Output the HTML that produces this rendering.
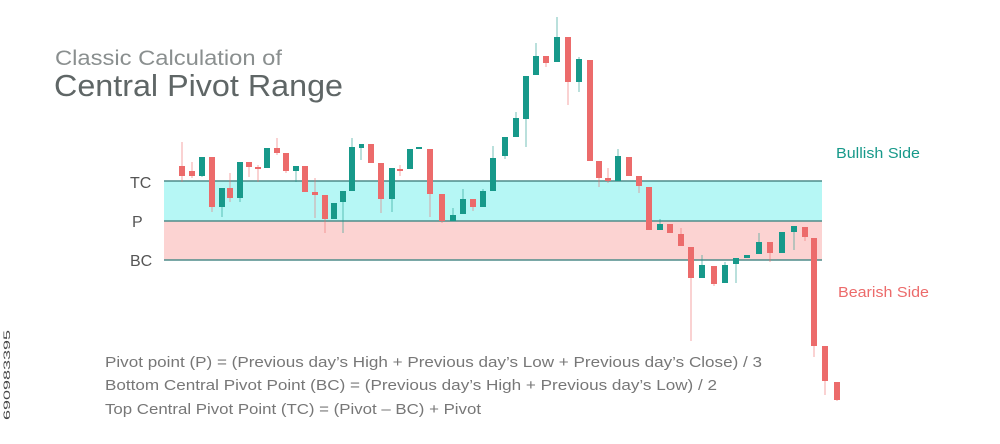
<!DOCTYPE html>
<html><head><meta charset="utf-8"><style>
body{margin:0;background:#fff;}
svg{display:block;font-family:"Liberation Sans",sans-serif;}
</style></head><body>
<svg width="1000" height="444" viewBox="0 0 1000 444" xmlns="http://www.w3.org/2000/svg">
<rect width="1000" height="444" fill="#fff"/>
<text x="55" y="65" font-size="21" fill="#8a8f8f" textLength="227" lengthAdjust="spacingAndGlyphs">Classic Calculation of</text>
<text x="54" y="96" font-size="31" fill="#5f6666" textLength="289" lengthAdjust="spacingAndGlyphs">Central Pivot Range</text>
<text x="10" y="420" font-size="9" fill="#444" transform="rotate(-90 10 420)" textLength="90" lengthAdjust="spacingAndGlyphs">690983395</text>
<rect x="164" y="181" width="658" height="40" fill="#b6f7f5"/>
<rect x="164" y="221" width="658" height="39" fill="#fcd3d2"/>
<g stroke="#4f8c8a" stroke-width="1.5">
<line x1="164" y1="181" x2="822" y2="181"/>
<line x1="164" y1="221" x2="822" y2="221"/>
<line x1="164" y1="260" x2="822" y2="260"/>
</g>
<g font-size="16" fill="#555">
<text x="130" y="188">TC</text>
<text x="132" y="227">P</text>
<text x="130" y="266">BC</text>
</g>
<text x="836" y="158" font-size="15" fill="#17998a" textLength="84" lengthAdjust="spacingAndGlyphs">Bullish Side</text>
<text x="838" y="297" font-size="15" fill="#ec6b6b" textLength="91" lengthAdjust="spacingAndGlyphs">Bearish Side</text>
<g id="c">
<g fill="#ec6b6b" stroke="#ec6b6b">
<line x1="182" y1="142" x2="182" y2="182" stroke-opacity=".6"/><rect x="179" y="166" width="6" height="10" stroke="none"/>
<line x1="192" y1="162" x2="192" y2="178" stroke-opacity=".6"/><rect x="189" y="171" width="6" height="5" stroke="none"/>
<line x1="212" y1="157" x2="212" y2="212" stroke-opacity=".6"/><rect x="209" y="157" width="6" height="50" stroke="none"/>
<line x1="230" y1="173" x2="230" y2="202" stroke-opacity=".6"/><rect x="227" y="188" width="6" height="10" stroke="none"/>
<line x1="249" y1="162" x2="249" y2="177" stroke-opacity=".6"/><rect x="246" y="162" width="6" height="5" stroke="none"/>
<line x1="258" y1="165" x2="258" y2="182" stroke-opacity=".6"/><rect x="255" y="167" width="6" height="2" stroke="none"/>
<line x1="277" y1="138" x2="277" y2="155" stroke-opacity=".6"/><rect x="274" y="148" width="6" height="5" stroke="none"/>
<line x1="286" y1="153" x2="286" y2="173" stroke-opacity=".6"/><rect x="283" y="153" width="6" height="18" stroke="none"/>
<line x1="305" y1="166" x2="305" y2="192" stroke-opacity=".6"/><rect x="302" y="166" width="6" height="26" stroke="none"/>
<line x1="315" y1="178" x2="315" y2="218" stroke-opacity=".6"/><rect x="312" y="192" width="6" height="3" stroke="none"/>
<line x1="325" y1="195" x2="325" y2="233" stroke-opacity=".6"/><rect x="322" y="195" width="6" height="24" stroke="none"/>
<line x1="371" y1="144" x2="371" y2="163" stroke-opacity=".6"/><rect x="368" y="144" width="6" height="19" stroke="none"/>
<line x1="381" y1="163" x2="381" y2="213" stroke-opacity=".6"/><rect x="378" y="163" width="6" height="36" stroke="none"/>
<line x1="400" y1="165" x2="400" y2="176" stroke-opacity=".6"/><rect x="397" y="169" width="6" height="2" stroke="none"/>
<line x1="430" y1="149" x2="430" y2="217" stroke-opacity=".6"/><rect x="427" y="149" width="6" height="45" stroke="none"/>
<line x1="442" y1="194" x2="442" y2="223" stroke-opacity=".6"/><rect x="439" y="194" width="6" height="27" stroke="none"/>
<line x1="473" y1="199" x2="473" y2="211" stroke-opacity=".6"/><rect x="470" y="199" width="6" height="8" stroke="none"/>
<line x1="546" y1="56" x2="546" y2="67" stroke-opacity=".6"/><rect x="543" y="56" width="6" height="7" stroke="none"/>
<line x1="568" y1="37" x2="568" y2="105" stroke-opacity=".6"/><rect x="565" y="37" width="6" height="45" stroke="none"/>
<line x1="590" y1="60" x2="590" y2="161" stroke-opacity=".6"/><rect x="587" y="60" width="6" height="101" stroke="none"/>
<line x1="599" y1="161" x2="599" y2="187" stroke-opacity=".6"/><rect x="596" y="161" width="6" height="17" stroke="none"/>
<line x1="608" y1="168" x2="608" y2="183" stroke-opacity=".6"/><rect x="605" y="178" width="6" height="3" stroke="none"/>
<line x1="629" y1="157" x2="629" y2="176" stroke-opacity=".6"/><rect x="626" y="157" width="6" height="19" stroke="none"/>
<line x1="639" y1="176" x2="639" y2="193" stroke-opacity=".6"/><rect x="636" y="176" width="6" height="10" stroke="none"/>
<line x1="649" y1="187" x2="649" y2="230" stroke-opacity=".6"/><rect x="646" y="187" width="6" height="43" stroke="none"/>
<line x1="670" y1="224" x2="670" y2="233" stroke-opacity=".6"/><rect x="667" y="224" width="6" height="9" stroke="none"/>
<line x1="681" y1="228" x2="681" y2="246" stroke-opacity=".6"/><rect x="678" y="234" width="6" height="12" stroke="none"/>
<line x1="691" y1="247" x2="691" y2="341" stroke-opacity=".6"/><rect x="688" y="247" width="6" height="31" stroke="none"/>
<line x1="714" y1="266" x2="714" y2="286" stroke-opacity=".6"/><rect x="711" y="266" width="6" height="18" stroke="none"/>
<line x1="770" y1="242" x2="770" y2="262" stroke-opacity=".6"/><rect x="767" y="242" width="6" height="11" stroke="none"/>
<line x1="805" y1="227" x2="805" y2="241" stroke-opacity=".6"/><rect x="802" y="227" width="6" height="10" stroke="none"/>
<line x1="814" y1="238" x2="814" y2="357" stroke-opacity=".6"/><rect x="811" y="238" width="6" height="108" stroke="none"/>
<line x1="825" y1="346" x2="825" y2="395" stroke-opacity=".6"/><rect x="822" y="346" width="6" height="35" stroke="none"/>
<line x1="837" y1="382" x2="837" y2="401" stroke-opacity=".6"/><rect x="834" y="382" width="6" height="18" stroke="none"/>
</g>
<g fill="#17998a" stroke="#17998a">
<line x1="202" y1="157" x2="202" y2="177" stroke-opacity=".6"/><rect x="199" y="157" width="6" height="19" stroke="none"/>
<line x1="222" y1="188" x2="222" y2="217" stroke-opacity=".6"/><rect x="219" y="188" width="6" height="19" stroke="none"/>
<line x1="240" y1="162" x2="240" y2="202" stroke-opacity=".6"/><rect x="237" y="162" width="6" height="36" stroke="none"/>
<line x1="267" y1="148" x2="267" y2="168" stroke-opacity=".6"/><rect x="264" y="148" width="6" height="20" stroke="none"/>
<line x1="296" y1="166" x2="296" y2="182" stroke-opacity=".6"/><rect x="293" y="166" width="6" height="5" stroke="none"/>
<line x1="334" y1="203" x2="334" y2="219" stroke-opacity=".6"/><rect x="331" y="203" width="6" height="16" stroke="none"/>
<line x1="343" y1="191" x2="343" y2="233" stroke-opacity=".6"/><rect x="340" y="191" width="6" height="11" stroke="none"/>
<line x1="352" y1="138" x2="352" y2="191" stroke-opacity=".6"/><rect x="349" y="147" width="6" height="44" stroke="none"/>
<line x1="361" y1="144" x2="361" y2="160" stroke-opacity=".6"/><rect x="359" y="144" width="5" height="4" stroke="none"/>
<line x1="392" y1="168" x2="392" y2="212" stroke-opacity=".6"/><rect x="389" y="168" width="6" height="31" stroke="none"/>
<line x1="410" y1="149" x2="410" y2="169" stroke-opacity=".6"/><rect x="407" y="149" width="6" height="20" stroke="none"/>
<line x1="419" y1="147" x2="419" y2="149" stroke-opacity=".6"/><rect x="416" y="147" width="6" height="2" stroke="none"/>
<line x1="453" y1="208" x2="453" y2="221" stroke-opacity=".6"/><rect x="450" y="215" width="6" height="6" stroke="none"/>
<line x1="463" y1="189" x2="463" y2="214" stroke-opacity=".6"/><rect x="460" y="199" width="6" height="15" stroke="none"/>
<line x1="483" y1="189" x2="483" y2="207" stroke-opacity=".6"/><rect x="480" y="191" width="6" height="16" stroke="none"/>
<line x1="493" y1="146" x2="493" y2="191" stroke-opacity=".6"/><rect x="490" y="158" width="6" height="33" stroke="none"/>
<line x1="505" y1="137" x2="505" y2="159" stroke-opacity=".6"/><rect x="502" y="137" width="6" height="19" stroke="none"/>
<line x1="516" y1="112" x2="516" y2="137" stroke-opacity=".6"/><rect x="513" y="118" width="6" height="19" stroke="none"/>
<line x1="526" y1="76" x2="526" y2="147" stroke-opacity=".6"/><rect x="523" y="76" width="6" height="43" stroke="none"/>
<line x1="536" y1="43" x2="536" y2="75" stroke-opacity=".6"/><rect x="533" y="56" width="6" height="19" stroke="none"/>
<line x1="557" y1="17" x2="557" y2="62" stroke-opacity=".6"/><rect x="554" y="37" width="6" height="25" stroke="none"/>
<line x1="579" y1="57" x2="579" y2="92" stroke-opacity=".6"/><rect x="576" y="59" width="6" height="23" stroke="none"/>
<line x1="618" y1="149" x2="618" y2="181" stroke-opacity=".6"/><rect x="615" y="156" width="6" height="25" stroke="none"/>
<line x1="660" y1="219" x2="660" y2="230" stroke-opacity=".6"/><rect x="657" y="224" width="6" height="6" stroke="none"/>
<line x1="702" y1="255" x2="702" y2="278" stroke-opacity=".6"/><rect x="699" y="265" width="6" height="13" stroke="none"/>
<line x1="725" y1="262" x2="725" y2="283" stroke-opacity=".6"/><rect x="722" y="265" width="6" height="18" stroke="none"/>
<line x1="736" y1="258" x2="736" y2="283" stroke-opacity=".6"/><rect x="733" y="258" width="6" height="6" stroke="none"/>
<line x1="747" y1="255" x2="747" y2="258" stroke-opacity=".6"/><rect x="744" y="255" width="6" height="3" stroke="none"/>
<line x1="759" y1="233" x2="759" y2="254" stroke-opacity=".6"/><rect x="756" y="242" width="6" height="12" stroke="none"/>
<line x1="782" y1="232" x2="782" y2="253" stroke-opacity=".6"/><rect x="779" y="232" width="6" height="21" stroke="none"/>
<line x1="794" y1="226" x2="794" y2="250" stroke-opacity=".6"/><rect x="791" y="226" width="6" height="6" stroke="none"/>
</g>
</g>
<g font-size="15" fill="#777">
<text x="105" y="367" textLength="657" lengthAdjust="spacingAndGlyphs">Pivot point (P) = (Previous day’s High + Previous day’s Low + Previous day’s Close) / 3</text>
<text x="105" y="390" textLength="612" lengthAdjust="spacingAndGlyphs">Bottom Central Pivot Point (BC) = (Previous day’s High + Previous day’s Low) / 2</text>
<text x="105" y="414" textLength="376" lengthAdjust="spacingAndGlyphs">Top Central Pivot Point (TC) = (Pivot – BC) + Pivot</text>
</g>
</svg>
</body></html>
